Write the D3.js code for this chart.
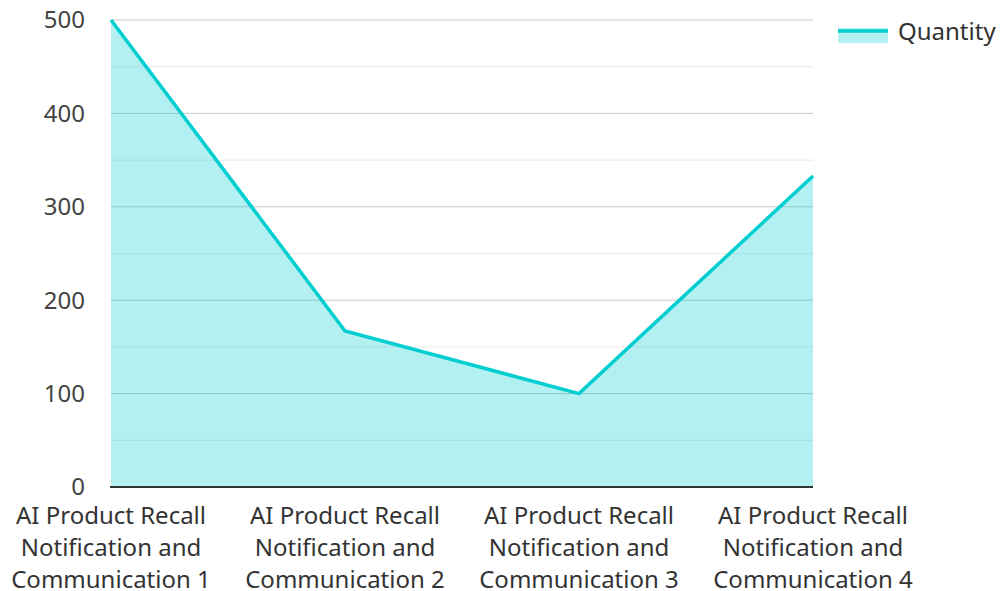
<!DOCTYPE html>
<html><head><meta charset="utf-8">
<script src="https://cdn.jsdelivr.net/npm/d3@7"></script>
<style>body{margin:0;background:#fff}svg{display:block;font-family:"Noto Sans",sans-serif}</style>
</head><body><svg id="c" width="1002" height="591"></svg>
<script>
const categories = ["AI Product Recall Notification and Communication 1","AI Product Recall Notification and Communication 2","AI Product Recall Notification and Communication 3","AI Product Recall Notification and Communication 4"];
const labelLines = [["AI Product Recall","Notification and","Communication 1"],["AI Product Recall","Notification and","Communication 2"],["AI Product Recall","Notification and","Communication 3"],["AI Product Recall","Notification and","Communication 4"]];
const quantity = [500, 167, 100, 333];
const yTicks = [0,100,200,300,400,500];
const minorTicks = [50,150,250,350,450];
const seriesName = "Quantity";

const svg = d3.select("#c");
const L=111,R=813,T=20,B=487;
const x = d3.scalePoint().domain(categories).range([L,R]);
const y = d3.scaleLinear().domain([0,500]).range([B,T]);
const fs = 24;

svg.append("g").selectAll("line").data(minorTicks).join("line")
  .attr("x1",L).attr("x2",R).attr("y1",d=>y(d)).attr("y2",d=>y(d)).attr("stroke","#e8e8e8").attr("stroke-width",1);
svg.append("g").selectAll("line").data(yTicks.filter(d=>d>0)).join("line")
  .attr("x1",L).attr("x2",R).attr("y1",d=>y(d)).attr("y2",d=>y(d)).attr("stroke","#c8c8c8").attr("stroke-width",1);

const area = d3.area().x((d,i)=>x(categories[i])).y0(B).y1(d=>y(d));
svg.append("path").datum(quantity).attr("d",area).attr("fill","#00ced1").attr("fill-opacity",0.3);
const line = d3.line().x((d,i)=>x(categories[i])).y(d=>y(d));
svg.append("path").datum(quantity).attr("d",line).attr("fill","none").attr("stroke","#00ced1").attr("stroke-width",3.5);

svg.append("line").attr("x1",L-1).attr("x2",R).attr("y1",B).attr("y2",B).attr("stroke","#333").attr("stroke-width",2);

svg.append("g").selectAll("text").data(yTicks).join("text")
  .attr("x",85).attr("y",d=>y(d)).attr("dy","0.35em").attr("text-anchor","end")
  .attr("font-size",fs).attr("fill","#444").text(d=>d);

const xl = svg.append("g").selectAll("text").data(categories).join("text")
  .attr("x",d=>x(d)).attr("y",524).attr("text-anchor","middle").attr("font-size",fs).attr("fill","#333");
xl.each(function(d,i){
  d3.select(this).selectAll("tspan").data(labelLines[i]).join("tspan")
    .attr("x",x(d)).attr("dy",(t,j)=>j?32:0).text(t=>t);
});

const lg = svg.append("g").attr("transform","translate(838,28)");
lg.append("rect").attr("x",0).attr("y",0).attr("width",50).attr("height",15).attr("fill","#00ced1").attr("fill-opacity",0.3);
lg.append("line").attr("x1",0).attr("x2",50).attr("y1",3).attr("y2",3).attr("stroke","#00ced1").attr("stroke-width",3.5);
lg.append("text").attr("x",60).attr("y",4).attr("dy","0.35em").attr("font-size",fs).attr("fill","#333").text(seriesName);
</script></body></html>
